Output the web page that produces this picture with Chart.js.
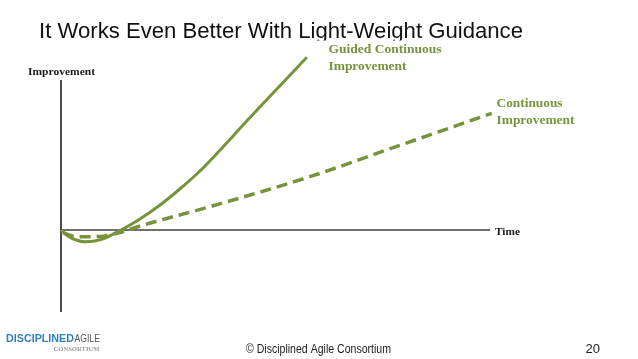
<!DOCTYPE html>
<html>
<head>
<meta charset="utf-8">
<script src="https://cdn.jsdelivr.net/npm/chart.js@4/dist/chart.umd.min.js"></script>
<style>
html,body{margin:0;padding:0;background:#fff;}
#wrap{width:638px;height:359px;position:relative;}
</style>
</head>
<body>
<div id="wrap"><canvas id="c" width="638" height="359"></canvas></div>
<script>
// Time axis in arbitrary units (0..100), improvement in arbitrary units (0 = baseline)
const guidedTime = [0, 1.6, 3.5, 5.6, 7.9, 10.3, 14.0, 18.4, 23.1, 27.7, 32.4, 37.1, 43.3, 50.1, 57.3];
const guidedImprovement = [0, -3, -5, -5.9, -5.5, -4, 0, 5.5, 12.5, 20.5, 29.5, 40, 54.5, 70, 86.35];
const continuousTime = [0.5, 3.7, 9.1, 13.0, 19.2, 34.7, 58.0, 79.0, 100.4];
const continuousImprovement = [-1.5, -3.35, -3.25, -1.65, 2.5, 11.65, 26.65, 42.35, 58.35];
const timeAxisT = [0, 100];
const timeAxisY = [0, 0];
const improvementAxisT = [0, 0];
const improvementAxisY = [-41, 75];

const seriesLabels = ["Guided Continuous Improvement", "Continuous Improvement"];
const titleText = "It Works Even Better With Light-Weight Guidance";

const green = "#77933c";
const axisColor = "#3f3f3f";

function pts(xs, ys){ return xs.map((x,i)=>({x:x, y:ys[i]})); }

function fitText(ctx, text, x, y, width, font, color){
  ctx.save();
  ctx.font = font;
  ctx.fillStyle = color;
  ctx.textBaseline = "alphabetic";
  ctx.textAlign = "left";
  const w = ctx.measureText(text).width;
  ctx.translate(x, y);
  ctx.scale(width / w, 1);
  ctx.fillText(text, 0, 0);
  ctx.restore();
}

const textPlugin = {
  id: "slideText",
  afterDraw(chart){
    const ctx = chart.ctx;
    // Title (clipped at bottom like the reference)
    ctx.save();
    ctx.beginPath();
    ctx.rect(0, 0, 638, 40.5);
    ctx.clip();
    fitText(ctx, titleText, 39, 37.7, 484, "22px 'Liberation Sans', Arial, sans-serif", "#111");
    ctx.restore();

    const serifBold = "bold 13px 'Liberation Serif', 'Times New Roman', serif";
    // Axis labels
    fitText(ctx, "Improvement", 28, 74.5, 67, "bold 11px 'Liberation Serif', serif", "#1a1a1a");
    fitText(ctx, "Time", 495, 234.5, 25, "bold 11px 'Liberation Serif', serif", "#1a1a1a");
    // Series labels
    fitText(ctx, "Guided Continuous", 328.5, 52.5, 113, serifBold, green);
    fitText(ctx, "Improvement", 328.5, 69.5, 78, serifBold, green);
    fitText(ctx, "Continuous", 496.5, 107, 66, serifBold, green);
    fitText(ctx, "Improvement", 496.5, 123.5, 78, serifBold, green);

    // Footer
    fitText(ctx, "DISCIPLINED", 6, 342, 68, "bold 11px 'Liberation Sans', Arial, sans-serif", "#2f7fbf");
    fitText(ctx, "AGILE", 74.5, 342, 25.5, "11px 'Liberation Sans', Arial, sans-serif", "#555");
    fitText(ctx, "CONSORTIUM", 53.5, 351, 46, "bold 6px 'Liberation Serif', serif", "#9a9a9a");
    fitText(ctx, "\u00A9 Disciplined Agile Consortium", 246, 353, 145, "12px 'Liberation Sans', Arial, sans-serif", "#222");
    fitText(ctx, "20", 585.5, 353, 14.5, "12px 'Liberation Sans', Arial, sans-serif", "#222");
  }
};

new Chart(document.getElementById("c"), {
  type: "line",
  data: {
    datasets: [
      {
        label: seriesLabels[0],
        data: pts(guidedTime, guidedImprovement),
        borderColor: green, borderWidth: 3, pointRadius: 0,
        cubicInterpolationMode: "monotone", fill: false, clip: false, order: 0
      },
      {
        label: seriesLabels[1],
        data: pts(continuousTime, continuousImprovement),
        borderColor: green, borderWidth: 3.5, borderDash: [11, 6], pointRadius: 0,
        cubicInterpolationMode: "monotone", fill: false, clip: false, order: 0
      },
      {
        label: "time axis",
        data: pts(timeAxisT, timeAxisY),
        borderColor: axisColor, borderWidth: 1.5, pointRadius: 0, clip: false, order: 2
      },
      {
        label: "improvement axis",
        data: pts(improvementAxisT, improvementAxisY),
        borderColor: "#111", borderWidth: 1.5, pointRadius: 0, clip: false, order: 2
      }
    ]
  },
  options: {
    responsive: false,
    animation: false,
    events: [],
    layout: { padding: { left: 61, right: 148, top: 80, bottom: 47 } },
    plugins: { legend: { display: false }, tooltip: { enabled: false }, title: { display: false } },
    scales: {
      x: { type: "linear", min: 0, max: 100, display: false },
      y: { type: "linear", min: -41, max: 75, display: false }
    }
  },
  plugins: [textPlugin]
});
</script>
</body>
</html>
